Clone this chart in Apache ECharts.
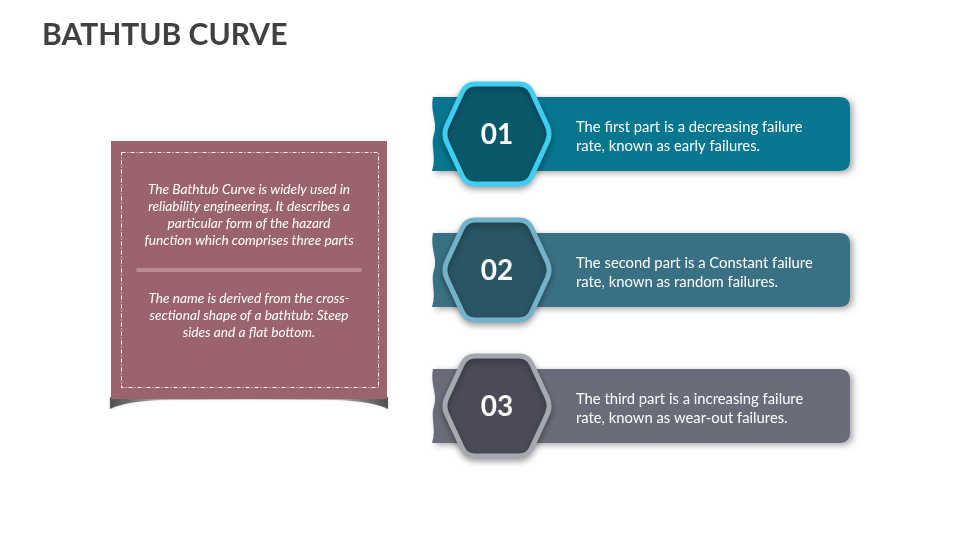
<!DOCTYPE html>
<html>
<head>
<meta charset="utf-8">
<script src="https://cdn.jsdelivr.net/npm/echarts@6/dist/echarts.min.js"></script>
<style>html,body{margin:0;padding:0;background:#fff;}#c{width:960px;height:540px;}</style>
</head>
<body>
<div id="c"></div>
<script>
// ---- content ----
const titleText = 'BATHTUB CURVE';
const stepNumbers = ['01', '02', '03'];
const stepLines = [
  ['The first part is a decreasing failure', 'rate, known as early failures.'],
  ['The second part is a Constant failure', 'rate, known as random failures.'],
  ['The third part is a increasing failure', 'rate, known as wear-out failures.']
];
const introLines = [
  'The Bathtub Curve is widely used in',
  'reliability engineering. It describes a',
  'particular form of the hazard',
  'function which comprises three parts'
];
const nameLines = [
  'The name is derived from the cross-',
  'sectional shape of a bathtub: Steep',
  'sides and a flat bottom.'
];

// ---- styles ----
const bannerColors = ['#08768f', '#3a7084', '#6a6c79'];
const hexFill = ['#0a596b', '#2a5564', '#4a4b57'];
const hexBorder = ['#3fcdf0', '#72b3ca', '#a6a8b0'];
const FONT = 'Lato, "Open Sans", sans-serif';

function roundedPoly(pts, r) {
  const n = pts.length;
  let d = '';
  for (let i = 0; i < n; i++) {
    const p0 = pts[(i - 1 + n) % n], p1 = pts[i], p2 = pts[(i + 1) % n];
    const v1 = [p0[0] - p1[0], p0[1] - p1[1]], v2 = [p2[0] - p1[0], p2[1] - p1[1]];
    const l1 = Math.hypot(v1[0], v1[1]), l2 = Math.hypot(v2[0], v2[1]);
    const a = [p1[0] + v1[0] / l1 * r, p1[1] + v1[1] / l1 * r];
    const b = [p1[0] + v2[0] / l2 * r, p1[1] + v2[1] / l2 * r];
    d += (i === 0 ? 'M' : 'L') + a[0] + ' ' + a[1] + ' Q' + p1[0] + ' ' + p1[1] + ' ' + b[0] + ' ' + b[1] + ' ';
  }
  return d + 'Z';
}

function bannerPath(L, R, T, B, r) {
  const cy = (T + B) / 2;
  return 'M' + L + ' ' + T + ' L' + (R - r) + ' ' + T + ' Q' + R + ' ' + T + ' ' + R + ' ' + (T + r) +
    ' L' + R + ' ' + (B - r) + ' Q' + R + ' ' + B + ' ' + (R - r) + ' ' + B + ' L' + L + ' ' + B +
    ' C' + (L + 5) + ' ' + (B - 14) + ' ' + (L - 2) + ' ' + (B - 26) + ' ' + (L + 2) + ' ' + cy +
    ' C' + (L + 6) + ' ' + (cy - 12) + ' ' + (L - 2) + ' ' + (T + 16) + ' ' + (L + 1) + ' ' + T + ' Z';
}

const chart = echarts.init(document.getElementById('c'), null, { renderer: 'canvas' });

const data = stepNumbers.map((s, i) => [0, s]);

chart.setOption({
  backgroundColor: '#ffffff',
  animation: false,
  title: {
    text: titleText, left: 37, top: 15,
    textStyle: { fontFamily: FONT, fontWeight: 'bold', fontSize: 30, color: '#404040' }
  },
  grid: { left: 0, right: 0, top: 66, bottom: 66 },
  xAxis: { type: 'value', min: 0, max: 1, show: false },
  yAxis: { type: 'category', data: stepNumbers, inverse: true, show: false },
  series: [{
    type: 'custom',
    data: data,
    encode: { x: 0, y: 1 },
    z: 2,
    renderItem: function (params, api) {
      const i = params.dataIndex;
      const cy = api.coord([0, api.value(1)])[1];
      const T = cy - 37, B = cy + 37;
      const hx = 497;
      const hw = 54, ht = 31, hh = 50;
      const hexPts = [[hx - hw, cy], [hx - ht, cy - hh], [hx + ht, cy - hh], [hx + hw, cy], [hx + ht, cy + hh], [hx - ht, cy + hh]];
      return {
        type: 'group',
        children: [
          {
            type: 'path',
            shape: { pathData: bannerPath(432, 850, T, B, 11) },
            style: { fill: bannerColors[i], shadowBlur: 6, shadowOffsetX: 3, shadowOffsetY: 2, shadowColor: 'rgba(0,0,0,0.35)' }
          },
          {
            type: 'path',
            shape: { pathData: roundedPoly(hexPts, 9) },
            style: { fill: hexFill[i], stroke: hexBorder[i], lineWidth: 5, shadowBlur: 6, shadowOffsetY: 3, shadowColor: 'rgba(0,0,0,0.3)' }
          },
          {
            type: 'text',
            style: { text: stepNumbers[i], x: hx, y: cy + 1, align: 'center', verticalAlign: 'middle', fill: '#ffffff', font: 'bold 28px ' + FONT }
          },
          {
            type: 'text',
            style: { text: stepLines[i].join('\n'), x: 576, y: cy + 3, align: 'left', verticalAlign: 'middle', lineHeight: 19, fill: '#ffffff', font: '14.8px ' + FONT }
          }
        ]
      };
    }
  }, {
    type: 'custom',
    data: [[0, stepNumbers[0]]],
    z: 1,
    renderItem: function () {
      return {
        type: 'path',
        shape: { pathData: 'M110 397 L388 397 L388 409 Q372 401 335 400 L163 400 Q126 401 110 409 Z' },
        style: {
          fill: {
            type: 'linear', x: 0, y: 0, x2: 1, y2: 0,
            colorStops: [
              { offset: 0, color: 'rgba(40,40,40,0.75)' },
              { offset: 0.2, color: 'rgba(40,40,40,0.3)' },
              { offset: 0.5, color: 'rgba(40,40,40,0.15)' },
              { offset: 0.8, color: 'rgba(40,40,40,0.3)' },
              { offset: 1, color: 'rgba(40,40,40,0.75)' }
            ]
          },
          shadowBlur: 3, shadowColor: 'rgba(0,0,0,0.3)'
        }
      };
    }
  }],
  graphic: [
    {
      type: 'rect',
      z: 10,
      shape: { x: 111, y: 141, width: 276, height: 258 },
      style: { fill: '#9b646d' }
    },
    {
      type: 'rect',
      z: 11,
      shape: { x: 121.5, y: 152.5, width: 257, height: 235 },
      style: { fill: 'none', stroke: '#ffffff', lineWidth: 1, lineDash: [4, 2, 1, 2] }
    },
    {
      type: 'text',
      z: 11,
      style: { text: introLines.join('\n'), x: 249, y: 215.5, align: 'center', verticalAlign: 'middle', lineHeight: 17, fill: '#ffffff', font: 'italic 13.7px ' + FONT }
    },
    {
      type: 'rect',
      z: 11,
      shape: { x: 136, y: 268, width: 226, height: 4, r: 2 },
      style: { fill: '#b98d93' }
    },
    {
      type: 'text',
      z: 11,
      style: { text: nameLines.join('\n'), x: 249, y: 316, align: 'center', verticalAlign: 'middle', lineHeight: 17, fill: '#ffffff', font: 'italic 13.7px ' + FONT }
    }
  ]
});
</script>
</body>
</html>
